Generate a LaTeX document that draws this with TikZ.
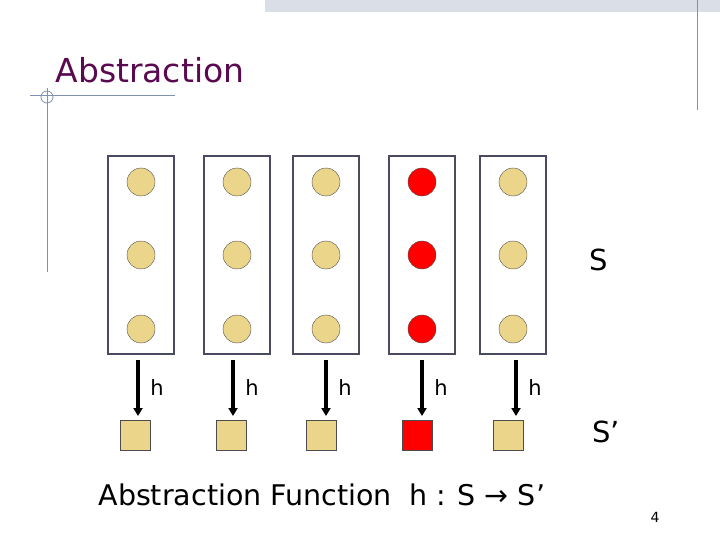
\documentclass[tikz,border=0pt]{standalone}
\usepackage{fontspec}
\setmainfont{DejaVu Sans}
\usetikzlibrary{arrows.meta}
\definecolor{cy}{HTML}{EBD58A}
\definecolor{bx}{HTML}{4A4A60}
\definecolor{ln}{HTML}{8090B0}
\definecolor{tt}{HTML}{5A0A50}
\tikzset{
 col/.style={draw=bx,line width=1.6pt,minimum width=66pt,minimum height=198pt,inner sep=0pt},
 st/.style={circle,draw=black!70,fill=cy,minimum size=28pt,inner sep=0pt},
 rst/.style={circle,draw=black!70,fill=red,minimum size=28pt,inner sep=0pt},
 sq/.style={draw=black!70,fill=cy,minimum size=30pt,inner sep=0pt},
 rsq/.style={draw=black!70,fill=red,minimum size=30pt,inner sep=0pt},
 arr/.style={-{Triangle[length=8pt,width=9pt]},line width=3.5pt},
 lbl/.style={font=\fontsize{21}{24}\selectfont}
}
\begin{document}
\begin{tikzpicture}[x=1pt,y=-1pt]
\useasboundingbox (0,0) rectangle (720,540);
\fill[ln!30] (265,0) rectangle (720,12);
\draw[ln,line width=0.8pt] (697,0) -- (697,110);
\draw[ln,line width=0.8pt] (30,95) -- (175,95);
\draw[ln,line width=0.8pt] (47,88) -- (47,272);
\draw[ln,line width=0.8pt] (47,97) circle (6);
\node[anchor=west,text=tt,font=\fontsize{33}{38}\selectfont] (title) at (52,70) {Abstraction};
\foreach \i/\x/\sx/\ax/\c/\s in {1/141/135/138/st/sq,2/237/231/233/st/sq,3/326/321/326/st/sq,4/422/417/422/rst/rsq,5/513/508/516/st/sq}{
 \node[col] (b\i) at (\x,255) {};
 \node[\c] (c\i a) at (\x,182) {};
 \node[\c] (c\i b) at (\x,255) {};
 \node[\c] (c\i c) at (\x,329) {};
 \node[\s] (q\i) at (\sx,435) {};
 \coordinate (t\i) at (\ax,360);
 \coordinate (e\i) at (\ax,416);
 \draw[arr] (t\i) -- (e\i);
 \node[lbl] (h\i) at (\ax+19,388) {h};
}
\node[font=\fontsize{29}{32}\selectfont] (S) at (599,260) {S};
\node[font=\fontsize{29}{32}\selectfont] (Sp) at (606,432) {S’};
\node[anchor=base west,font=\fontsize{28.5}{32}\selectfont] (af) at (95,505) {Abstraction Function\hspace{0.6em}h : S → S’};
\node[font=\fontsize{14}{16}\selectfont] (pg) at (655,517) {4};
\end{tikzpicture}
\end{document}
